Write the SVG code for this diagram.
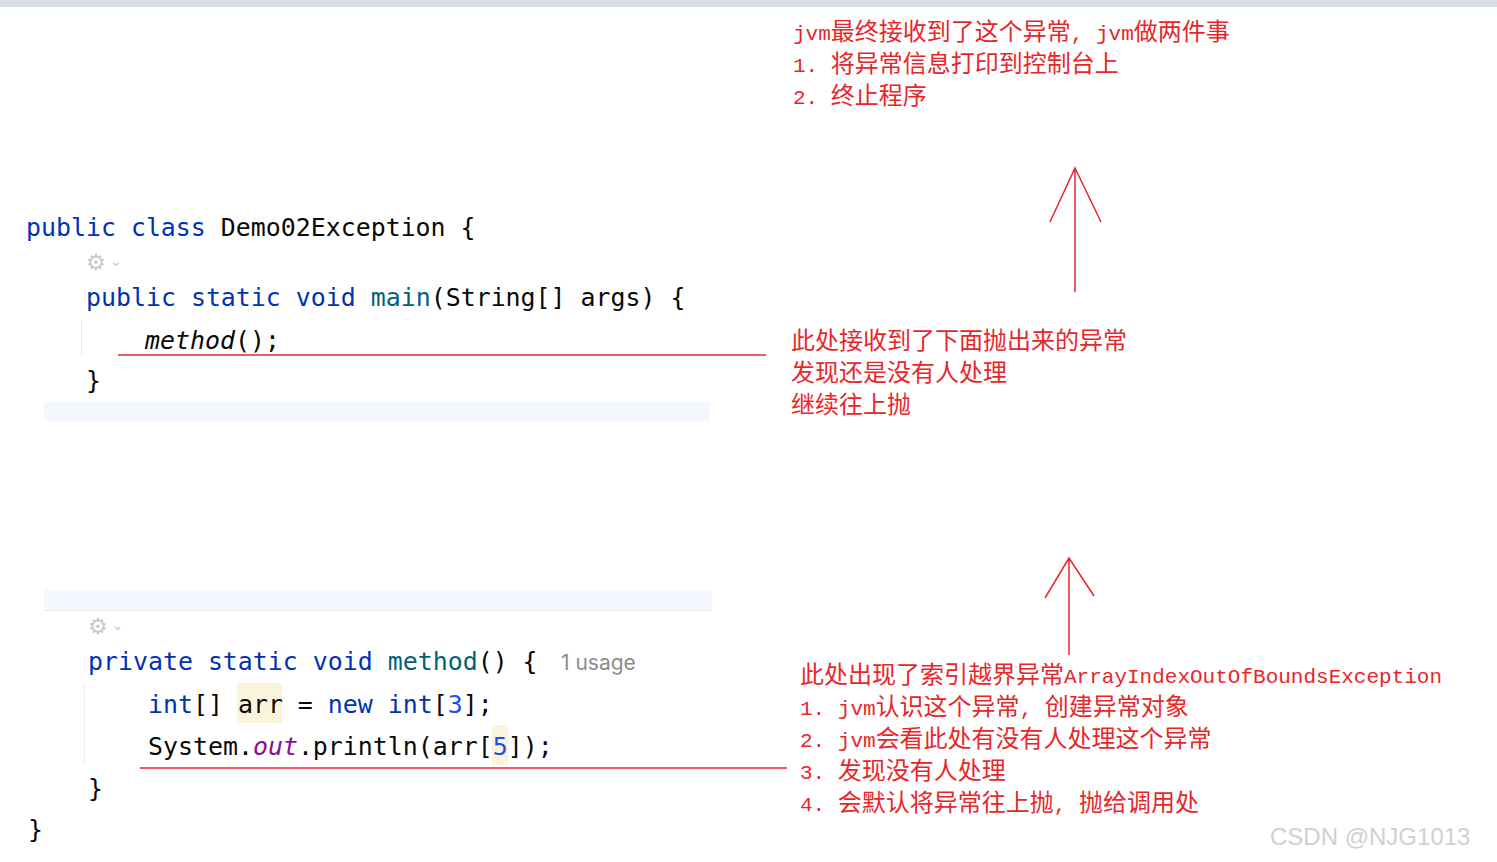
<svg xmlns="http://www.w3.org/2000/svg" width="1497" height="862" viewBox="0 0 1497 862">
<style>
.c{font-family:"DejaVu Sans Mono","Liberation Mono",monospace;font-size:24.9px;fill:#080808}
.k{fill:#0033b3}.m{fill:#00627a}.n{fill:#1750eb}.i{font-style:italic}.o{fill:#871094;font-style:italic}
.r{font-family:"Noto Sans CJK SC",sans-serif;font-size:24px;fill:#e8262a}
.l{font-family:"Liberation Mono",monospace;font-size:21px}
.ln{stroke:#e8262a;stroke-width:1.5;fill:none}
</style>
<rect width="1497" height="862" fill="#fff"/>
<rect width="1497" height="7" fill="#d8dce3"/>
<rect x="44" y="402" width="666" height="19" fill="#f4f7fd"/>
<rect x="44" y="590" width="668" height="20" fill="#f4f7fd"/>
<line x1="44" y1="610.5" x2="712" y2="610.5" stroke="#e6e8ec"/>
<line x1="81.5" y1="320" x2="81.5" y2="356" stroke="#ececec"/>
<line x1="84.5" y1="683" x2="84.5" y2="765" stroke="#ececec"/>
<rect x="237" y="683" width="45" height="40" fill="#fcf3dc"/>
<rect x="492" y="725" width="16" height="40" fill="#fcf3dc"/>
<g id="code">
<text class="c" x="26" y="236"><tspan class="k">public class </tspan>Demo02Exception {</text>
<text x="86" y="270" font-family="DejaVu Sans" font-size="22" fill="#c8c8c8">⚙<tspan font-size="14" dx="4" dy="-4">⌄</tspan></text>
<text class="c" x="86" y="306"><tspan class="k">public static void </tspan><tspan class="m">main</tspan>(String[] args) {</text>
<text class="c" x="145" y="349"><tspan class="i">method</tspan>();</text>
<text class="c" x="86" y="389">}</text>
<text x="88" y="634" font-family="DejaVu Sans" font-size="22" fill="#c8c8c8">⚙<tspan font-size="14" dx="4" dy="-4">⌄</tspan></text>
<text class="c" x="88" y="670"><tspan class="k">private static void </tspan><tspan class="m">method</tspan>() {</text>
<text x="561" y="670" font-family="Inter,'Noto Sans',sans-serif" font-size="21" fill="#8c8c8c">1 usage</text>
<text class="c" x="148" y="713"><tspan class="k">int</tspan>[] arr = <tspan class="k">new int</tspan>[<tspan class="n">3</tspan>];</text>
<text class="c" x="148" y="755">System.<tspan class="o">out</tspan>.println(arr[<tspan class="n">5</tspan>]);</text>
<text class="c" x="88" y="797">}</text>
<text class="c" x="28" y="838">}</text>
</g>
<g id="connectors">
<line class="ln" x1="118" y1="355" x2="766" y2="355"/>
<line class="ln" x1="140" y1="768" x2="787" y2="768"/>
<path class="ln" d="M1075 292V168M1050 222L1075 168L1101 222"/>
<path class="ln" d="M1069 655V558M1045 598L1069 558L1094 596"/>
</g>
<g id="note-top">
<text class="r" x="793" y="40"><tspan class="l">jvm</tspan>最终接收到了这个异常<tspan class="l">, jvm</tspan>做两件事</text>
<text class="r" x="793" y="72"><tspan class="l">1. </tspan>将异常信息打印到控制台上</text>
<text class="r" x="793" y="104"><tspan class="l">2. </tspan>终止程序</text>
</g>
<g id="note-mid">
<text class="r" x="791" y="349">此处接收到了下面抛出来的异常</text>
<text class="r" x="791" y="381">发现还是没有人处理</text>
<text class="r" x="791" y="413">继续往上抛</text>
</g>
<g id="note-bottom">
<text class="r" x="800" y="683">此处出现了索引越界异常<tspan class="l">ArrayIndexOutOfBoundsException</tspan></text>
<text class="r" x="800" y="715"><tspan class="l">1. jvm</tspan>认识这个异常<tspan class="l">, </tspan>创建异常对象</text>
<text class="r" x="800" y="747"><tspan class="l">2. jvm</tspan>会看此处有没有人处理这个异常</text>
<text class="r" x="800" y="779"><tspan class="l">3. </tspan>发现没有人处理</text>
<text class="r" x="800" y="811"><tspan class="l">4. </tspan>会默认将异常往上抛<tspan class="l">, </tspan>抛给调用处</text>
</g>
<text x="1270" y="845" font-family="'Liberation Sans',sans-serif" font-size="24" fill="#d0d0d0">CSDN @NJG1013</text>
</svg>
